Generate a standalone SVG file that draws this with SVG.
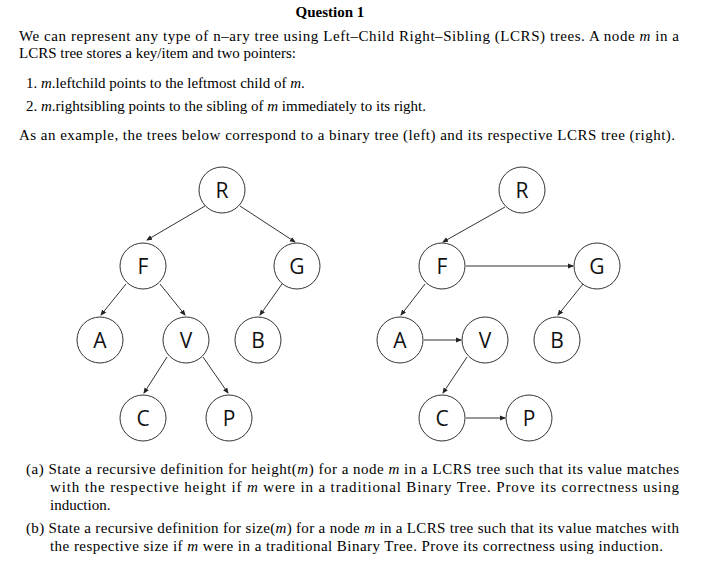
<svg xmlns="http://www.w3.org/2000/svg" width="701" height="575" viewBox="0 0 701 575">
<style>
.t{font-family:"Liberation Serif",serif;font-size:15px;fill:#000}
.i{font-style:italic}
.n circle{fill:#fff;stroke:#333;stroke-width:1}
.n text{font-family:"Open Sans","Liberation Sans",sans-serif;font-size:21px;text-anchor:middle;fill:#111}
#edges line{stroke:#333;stroke-width:1;marker-end:url(#ah)}
</style>
<defs><marker id="ah" markerWidth="6" markerHeight="6" refX="5" refY="3" orient="auto" markerUnits="userSpaceOnUse"><path d="M0,0.5 L6,3 L0,5.5z" fill="#222"/></marker></defs>
<rect width="701" height="575" fill="#fff"/>
<text class="t" x="330" y="17" style="font-weight:bold" text-anchor="middle">Question 1</text>
<text class="t" x="19" y="41" textLength="660" lengthAdjust="spacing">We can represent any type of n–ary tree using Left–Child Right–Sibling (LCRS) trees.  A node <tspan class="i">m</tspan> in a</text>
<text class="t" x="19" y="58">LCRS tree stores a key/item and two pointers:</text>
<text class="t" x="26" y="88">1.  <tspan class="i">m</tspan>.leftchild points to the leftmost child of <tspan class="i">m</tspan>.</text>
<text class="t" x="26" y="111">2.  <tspan class="i">m</tspan>.rightsibling points to the sibling of <tspan class="i">m</tspan> immediately to its right.</text>
<text class="t" x="19" y="140" textLength="656" lengthAdjust="spacing">As an example, the trees below correspond to a binary tree (left) and its respective LCRS tree (right).</text>
<g id="edges">
<line x1="205" y1="206" x2="147" y2="240"/>
<line x1="240" y1="206" x2="295" y2="242"/>
<line x1="126" y1="284" x2="101" y2="315"/>
<line x1="160" y1="284" x2="185" y2="315"/>
<line x1="282" y1="284" x2="260" y2="315"/>
<line x1="167" y1="357" x2="144" y2="393"/>
<line x1="203" y1="357" x2="228" y2="393"/>
<line x1="505" y1="207" x2="443" y2="242"/>
<line x1="466" y1="266" x2="573" y2="266"/>
<line x1="425" y1="284" x2="401" y2="315"/>
<line x1="583" y1="284" x2="558" y2="315"/>
<line x1="424" y1="340" x2="461" y2="340"/>
<line x1="467" y1="357" x2="443" y2="393"/>
<line x1="466" y1="418" x2="505" y2="418"/>
</g>
<g id="L-R" class="n"><circle cx="222" cy="190" r="23"/><text x="222" y="198">R</text></g>
<g id="L-F" class="n"><circle cx="143" cy="266" r="23"/><text x="143" y="274">F</text></g>
<g id="L-G" class="n"><circle cx="297" cy="266" r="23"/><text x="297" y="274">G</text></g>
<g id="L-A" class="n"><circle cx="100" cy="340" r="23"/><text x="100" y="348">A</text></g>
<g id="L-V" class="n"><circle cx="186" cy="340" r="23"/><text x="186" y="348">V</text></g>
<g id="L-B" class="n"><circle cx="258" cy="340" r="23"/><text x="258" y="348">B</text></g>
<g id="L-C" class="n"><circle cx="143" cy="418" r="23"/><text x="143" y="426">C</text></g>
<g id="L-P" class="n"><circle cx="229" cy="418" r="23"/><text x="229" y="426">P</text></g>
<g id="R-R" class="n"><circle cx="522" cy="190" r="23"/><text x="522" y="198">R</text></g>
<g id="R-F" class="n"><circle cx="442" cy="266" r="23"/><text x="442" y="274">F</text></g>
<g id="R-G" class="n"><circle cx="597" cy="266" r="23"/><text x="597" y="274">G</text></g>
<g id="R-A" class="n"><circle cx="400" cy="340" r="23"/><text x="400" y="348">A</text></g>
<g id="R-V" class="n"><circle cx="485" cy="340" r="23"/><text x="485" y="348">V</text></g>
<g id="R-B" class="n"><circle cx="557" cy="340" r="23"/><text x="557" y="348">B</text></g>
<g id="R-C" class="n"><circle cx="442" cy="418" r="23"/><text x="442" y="426">C</text></g>
<g id="R-P" class="n"><circle cx="529" cy="418" r="23"/><text x="529" y="426">P</text></g>
<text class="t" x="26" y="474" textLength="653" lengthAdjust="spacing">(a)  State a recursive definition for height(<tspan class="i">m</tspan>) for a node <tspan class="i">m</tspan> in a LCRS tree such that its value matches</text>
<text class="t" x="50" y="492" textLength="629" lengthAdjust="spacing">with the respective height if <tspan class="i">m</tspan> were in a traditional Binary Tree.  Prove its correctness using</text>
<text class="t" x="50" y="510">induction.</text>
<text class="t" x="26" y="533" textLength="653" lengthAdjust="spacing">(b)  State a recursive definition for size(<tspan class="i">m</tspan>) for a node <tspan class="i">m</tspan> in a LCRS tree such that its value matches with</text>
<text class="t" x="50" y="551" textLength="613" lengthAdjust="spacing">the respective size if <tspan class="i">m</tspan> were in a traditional Binary Tree. Prove its correctness using induction.</text>
</svg>
